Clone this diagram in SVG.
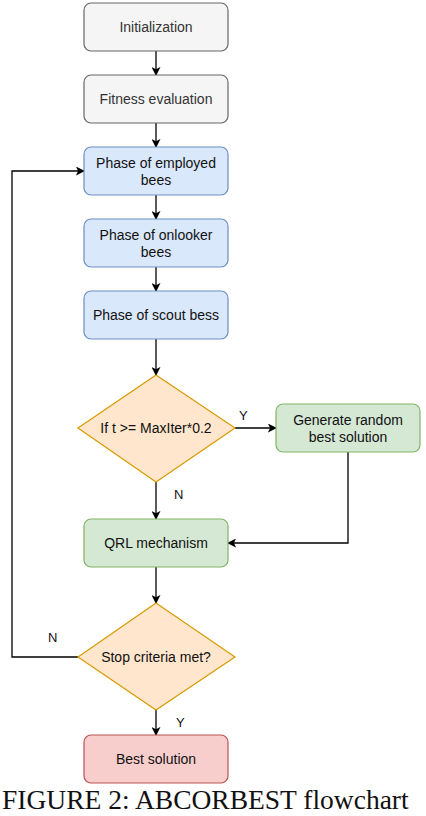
<svg xmlns="http://www.w3.org/2000/svg" width="426" height="816" viewBox="0 0 426 816">
<defs>
<marker id="arr" viewBox="0 0 10 10" refX="9" refY="5" markerWidth="9" markerHeight="9" markerUnits="userSpaceOnUse" orient="auto">
<path d="M0,0 L10,5 L0,10 L2.5,5 Z" fill="#000"/>
</marker>
</defs>
<style>
.t{font-family:"Liberation Sans",Arial,sans-serif;font-size:14px;text-anchor:middle;fill:#111}
.gray{fill:#f5f5f5;stroke:#666;stroke-width:1.2}
.blue{fill:#dae8fc;stroke:#6c8ebf;stroke-width:1.2}
.green{fill:#d5e8d4;stroke:#82b366;stroke-width:1.2}
.red{fill:#f8cecc;stroke:#b85450;stroke-width:1.2}
.dia{fill:#ffe6cc;stroke:#d79b00;stroke-width:1.2}
.e{fill:none;stroke:#000;stroke-width:1.3;marker-end:url(#arr)}
.l{font-family:"Liberation Sans",Arial,sans-serif;font-size:13px;fill:#111}
</style>
<rect width="426" height="816" fill="#fff"/>
<g id="connectors">
<path class="e" d="M156,51 V75"/>
<path class="e" d="M156,123 V147"/>
<path class="e" d="M156,195 V219"/>
<path class="e" d="M156,267 V291"/>
<path class="e" d="M156,339 V375"/>
<path class="e" d="M235,428 H276"/>
<path class="e" d="M156,482 V519"/>
<path class="e" d="M348,452 V543 H228"/>
<path class="e" d="M156,567 V603"/>
<path class="e" d="M156,710 V735"/>
<path class="e" d="M78,657 H12 V171 H84"/>
<text class="l" x="239" y="420">Y</text>
<text class="l" x="174" y="499">N</text>
<text class="l" x="48" y="642">N</text>
<text class="l" x="176" y="727">Y</text>
</g>
<g id="init"><rect class="gray" x="84" y="3" width="144" height="48" rx="7"/><text class="t" x="156" y="32" style="fill:#333">Initialization</text></g>
<g id="fitness"><rect class="gray" x="84" y="75" width="144" height="48" rx="7"/><text class="t" x="156" y="104" style="fill:#333">Fitness evaluation</text></g>
<g id="employed"><rect class="blue" x="84" y="147" width="144" height="48" rx="7"/><text class="t" x="156" y="168">Phase of employed</text><text class="t" x="156" y="185">bees</text></g>
<g id="onlooker"><rect class="blue" x="84" y="219" width="144" height="48" rx="7"/><text class="t" x="156" y="240">Phase of onlooker</text><text class="t" x="156" y="257">bees</text></g>
<g id="scout"><rect class="blue" x="84" y="291" width="144" height="48" rx="7"/><text class="t" x="156" y="320">Phase of scout bess</text></g>
<g id="cond1"><polygon class="dia" points="156,375 235,428 156,482 78,428"/><text class="t" x="156" y="433">If t &gt;= MaxIter*0.2</text></g>
<g id="random"><rect class="green" x="276" y="404" width="144" height="48" rx="7"/><text class="t" x="348" y="425">Generate random</text><text class="t" x="348" y="442">best solution</text></g>
<g id="qrl"><rect class="green" x="84" y="519" width="144" height="48" rx="7"/><text class="t" x="156" y="548">QRL mechanism</text></g>
<g id="cond2"><polygon class="dia" points="156,603 235,657 156,710 78,657"/><text class="t" x="156" y="662">Stop criteria met?</text></g>
<g id="best"><rect class="red" x="84" y="735" width="144" height="48" rx="7"/><text class="t" x="156" y="764">Best solution</text></g>
<text x="2" y="809" font-family="Liberation Serif,Times New Roman,serif" font-size="27.5" fill="#111">FIGURE 2: ABCORBEST flowchart</text>
</svg>
